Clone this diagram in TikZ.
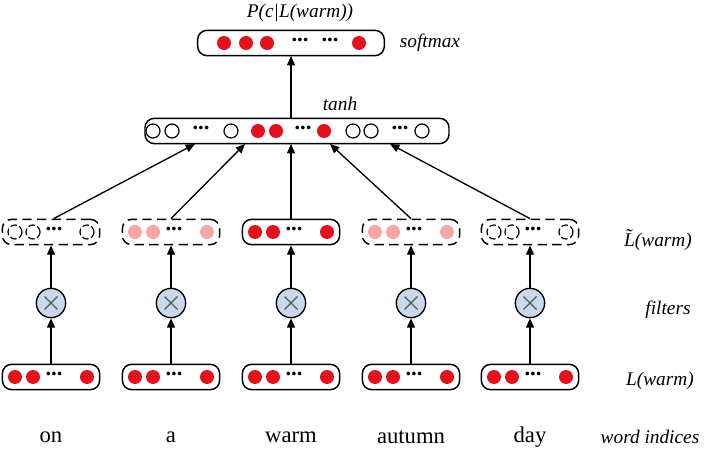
\documentclass[tikz,border=0pt]{standalone}
\usepackage{fontspec}
\setmainfont{Liberation Serif}
\usetikzlibrary{arrows.meta}
\definecolor{dred}{HTML}{E3101E}
\definecolor{pink}{HTML}{F4A6A8}
\definecolor{fblue}{HTML}{C9D8EC}
\begin{document}
\begin{tikzpicture}[x=0.75pt,y=-0.75pt,
 box/.style={draw,line width=1.1pt,rounded corners=7pt,minimum height=19pt,inner sep=0pt},
 arr/.style={-{Triangle[length=7pt,width=6pt]},line width=1pt},
 rc/.style={fill=dred,draw=none},
 pc/.style={fill=pink,draw=none},
 oc/.style={draw,line width=0.9pt},
 dc/.style={draw,line width=0.9pt,dash pattern=on 5pt off 2pt},
 lab/.style={font=\itshape\fontsize{14.5}{14.5}\selectfont},
 word/.style={font=\fontsize{17}{17}\selectfont},
 dots/.style={font=\bfseries\fontsize{17}{17}\selectfont}]
\useasboundingbox (0,0) rectangle (715,456);
% softmax
\node[box,minimum width=140pt] (sm) at (291,43) {};
\foreach \x in {224,246,267,359} \fill[rc] (\x,43) circle (7);
\node[dots] at (300,40) {...};\node[dots] at (330,40) {...};
\node[lab] (pl) at (300,13) {P(c|L(warm))};
\node[lab] (sl) at (430,43) {softmax};
% tanh
\node[box,minimum width=228pt] (th) at (297,131) {};
\foreach \x in {153,172,231,353,371,422} \draw[oc] (\x,131) circle (7);
\foreach \x in {258,276,324} \fill[rc] (\x,131) circle (7);
\node[dots] at (201,128) {...};\node[dots] at (303,128) {...};\node[dots] at (400,128) {...};
\node[lab] (tl) at (340,104) {tanh};
\draw[arr] (291,118) -- (291,56);
% columns
\foreach \i/\cx/\w/\t in {1/51/on/d,2/171/a/p,3/291/warm/r,4/411/autumn/p,5/530/day/d}{
  \node[box,minimum width=73pt] (b\i) at (\cx,377) {};
  \foreach \dx in {-36,-18,36} \fill[rc] (\cx+\dx,377) circle (7);
  \node[dots] at (\cx+3,374) {...};
  \node[circle,draw,line width=1pt,fill=fblue,minimum size=22pt,inner sep=0pt] (f\i) at (\cx,303) {};
  \draw[line width=0.8pt,gray!70!black] (\cx-6.5,296.5) -- (\cx+6.5,309.5) (\cx-6.5,309.5) -- (\cx+6.5,296.5);
  \if\t r
    \node[box,minimum width=73pt] (t\i) at (\cx,232) {};
    \foreach \dx in {-36,-18,36} \fill[rc] (\cx+\dx,232) circle (7);
  \else\if\t p
    \node[box,dash pattern=on 7pt off 4pt,minimum width=73pt] (t\i) at (\cx,232) {};
    \foreach \dx in {-36,-18,36} \fill[pc] (\cx+\dx,232) circle (7);
  \else
    \node[box,dash pattern=on 7pt off 4pt,minimum width=73pt] (t\i) at (\cx,232) {};
    \foreach \dx in {-36,-18,36} \draw[dc] (\cx+\dx,232) circle (7);
  \fi\fi
  \node[dots] at (\cx+3,229) {...};
  \node[word] (w\i) at (\cx,437) {\w};
  \draw[arr] (b\i.north) -- (f\i.south);
  \draw[arr] (f\i.north) -- (t\i.south);
}
\coordinate (e1) at (195,144);\coordinate (e2) at (245,144);\coordinate (e3) at (291,144);
\coordinate (e4) at (330,144);\coordinate (e5) at (390,144);
\draw[arr] ([xshift=2]t1.north) -- (e1);
\draw[arr] (t2.north) -- (e2);
\draw[arr] (t3.north) -- (e3);
\draw[arr] (t4.north) -- (e4);
\draw[arr] (t5.north) -- (e5);
\node[lab] (ll) at (658,240) {\~{L}(warm)};
\node[lab] (fl) at (668,310) {filters};
\node[lab] (lw) at (660,381) {L(warm)};
\node[lab] (wi) at (650,437) {word indices};
\end{tikzpicture}
\end{document}
